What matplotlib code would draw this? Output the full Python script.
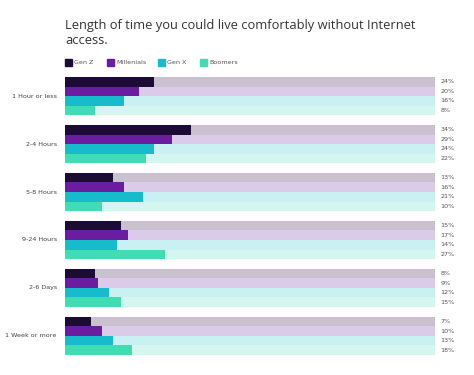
import numpy as np
import matplotlib.pyplot as plt

categories = ['1 Hour or less', '2-4 Hours', '5-8 Hours', '9-24 Hours', '2-6 Days', '1 Week or more']
series = ['Gen Z', 'Millenials', 'Gen X', 'Boomers']
gen_z = [24, 34, 13, 15, 8, 7]
millenials = [20, 29, 16, 17, 9, 10]
gen_x = [16, 24, 21, 14, 12, 13]
boomers = [8, 22, 10, 27, 15, 18]

values = [gen_z, millenials, gen_x, boomers]
colors = ['#1c0b36', '#6a1d9e', '#16bccc', '#40dcb2']
bg_colors = ['#cac1d0', '#dccaea', '#c9f1f3', '#d4f6ef']

fig = plt.figure(figsize=(4.74, 3.75), dpi=100)
ax = fig.add_axes([65/474, 1-355/375, 370/474, 278/375])

stride = 5
for g, cat in enumerate(categories):
    for s in range(4):
        y = g*stride + s + 0.5
        ax.barh(y, 100, height=1.0, color=bg_colors[s], linewidth=0)
        ax.barh(y, values[s][g], height=1.0, color=colors[s], linewidth=0)
        ax.text(101.5, y, f'{values[s][g]}%', va='center', ha='left',
                fontsize=4.6, color='#555555')
    ax.text(-2.2, g*stride + 2, cat, va='center', ha='right',
            fontsize=4.6, color='#444444')

ax.set_xlim(0, 100)
ax.set_ylim(29, 0)
ax.axis('off')

fig.text(65/474, 1-33/375, 'Length of time you could live comfortably without Internet\naccess.',
         fontsize=9.3, color='#333333', va='center', ha='left', linespacing=1.2,
         family='Open Sans')

# legend
lx = [65, 107, 158, 200]
for i, name in enumerate(series):
    fig.patches.append(plt.Rectangle((lx[i]/474, 1-66/375), 7/474, 7/375,
                                     transform=fig.transFigure, color=colors[i]))
    fig.text((lx[i]+9)/474, 1-62.5/375, name, fontsize=4.6, color='#555555',
             va='center', ha='left')

fig.savefig('out.png', dpi=100)
